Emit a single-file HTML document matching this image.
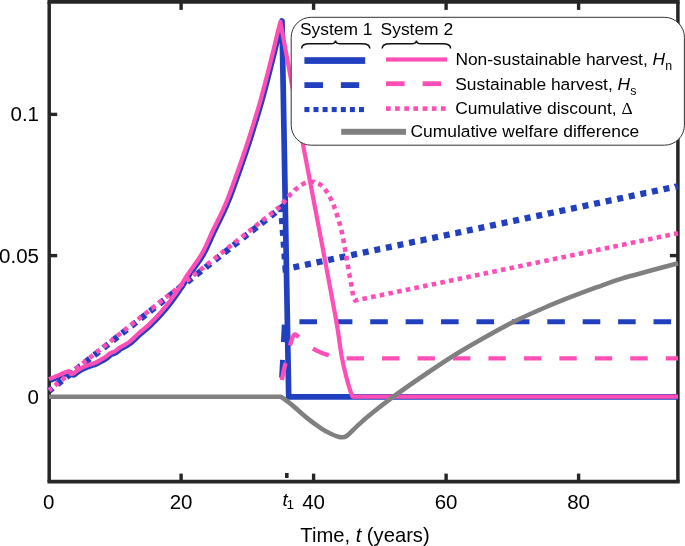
<!DOCTYPE html>
<html><head><meta charset="utf-8"><title>Figure</title>
<style>
html,body{margin:0;padding:0;background:#fff;}
body{width:685px;height:546px;overflow:hidden;}
svg{display:block;}
text{fill:#000;}
</style></head>
<body>
<svg width="685" height="546" viewBox="0 0 685 546">
<rect width="685" height="546" fill="#fff"/>
<path d="M47.45,1.90 H679.70 M47.45,481.60 H679.70" stroke="#262626" stroke-width="3.8" fill="none"/>
<path d="M49.20,1.90 V481.60 M677.90,1.90 V481.60" stroke="#262626" stroke-width="3.5" fill="none"/>
<line x1="181.10" y1="481.60" x2="181.10" y2="473.60" stroke="#262626" stroke-width="3.40"/>
<line x1="181.10" y1="1.90" x2="181.10" y2="9.90" stroke="#262626" stroke-width="3.40"/>
<line x1="313.60" y1="481.60" x2="313.60" y2="473.60" stroke="#262626" stroke-width="3.40"/>
<line x1="313.60" y1="1.90" x2="313.60" y2="9.90" stroke="#262626" stroke-width="3.40"/>
<line x1="446.10" y1="481.60" x2="446.10" y2="473.60" stroke="#262626" stroke-width="3.40"/>
<line x1="446.10" y1="1.90" x2="446.10" y2="9.90" stroke="#262626" stroke-width="3.40"/>
<line x1="578.60" y1="481.60" x2="578.60" y2="473.60" stroke="#262626" stroke-width="3.40"/>
<line x1="578.60" y1="1.90" x2="578.60" y2="9.90" stroke="#262626" stroke-width="3.40"/>
<line x1="286.8" y1="473" x2="286.8" y2="478" stroke="#262626" stroke-width="3.6"/>
<line x1="49.20" y1="396.80" x2="57.20" y2="396.80" stroke="#262626" stroke-width="3.40"/>
<line x1="677.90" y1="396.80" x2="669.90" y2="396.80" stroke="#262626" stroke-width="3.40"/>
<line x1="49.20" y1="255.60" x2="57.20" y2="255.60" stroke="#262626" stroke-width="3.40"/>
<line x1="677.90" y1="255.60" x2="669.90" y2="255.60" stroke="#262626" stroke-width="3.40"/>
<line x1="49.20" y1="114.40" x2="57.20" y2="114.40" stroke="#262626" stroke-width="3.40"/>
<line x1="677.90" y1="114.40" x2="669.90" y2="114.40" stroke="#262626" stroke-width="3.40"/>
<path d="M50.10,380.20 C51.93,379.43 57.85,376.92 61.10,375.60 C64.35,374.28 67.55,372.40 69.60,372.30 C71.65,372.20 72.15,374.98 73.40,375.00 C74.65,375.02 75.82,373.27 77.10,372.40 C78.38,371.53 79.60,370.65 81.10,369.80 C82.60,368.95 84.43,368.00 86.10,367.30 C87.77,366.60 89.43,366.18 91.10,365.60 C92.77,365.02 94.43,364.53 96.10,363.80 C97.77,363.07 99.43,362.12 101.10,361.20 C102.77,360.28 104.43,359.43 106.10,358.30 C107.77,357.17 109.43,355.42 111.10,354.40 C112.77,353.38 114.43,353.20 116.10,352.20 C117.77,351.20 119.43,349.48 121.10,348.40 C122.77,347.32 124.43,346.70 126.10,345.70 C127.77,344.70 129.43,343.70 131.10,342.40 C132.77,341.10 134.43,339.45 136.10,337.90 C137.77,336.35 139.43,334.57 141.10,333.10 C142.77,331.63 144.43,330.53 146.10,329.10 C147.77,327.67 148.60,326.98 151.10,324.50 C153.60,322.02 157.65,318.12 161.10,314.20 C164.55,310.28 168.43,305.45 171.80,301.00 C175.17,296.55 178.53,291.67 181.30,287.50 C184.07,283.33 185.45,280.42 188.40,276.00 C191.35,271.58 196.23,265.17 199.00,261.00 C201.77,256.83 202.47,256.00 205.00,251.00 C207.53,246.00 210.32,239.33 214.20,231.00 C218.08,222.67 222.97,214.33 228.30,201.00 C233.63,187.67 241.88,163.50 246.20,151.00 C250.52,138.50 251.62,134.33 254.20,126.00 C256.78,117.67 259.35,109.33 261.70,101.00 C264.05,92.67 266.15,84.33 268.30,76.00 C270.45,67.67 272.92,57.83 274.60,51.00 C276.28,44.17 277.17,40.00 278.40,35.00 C279.63,30.00 281.40,23.33 282.00,21.00 L288.7,396.8 L678,396.8" fill="none" stroke="#2140c0" stroke-width="5.7" stroke-linejoin="round"/>
<path d="M280.60,396.80 L280.63,396.30 L280.65,395.80 L280.67,395.33 M281.58,377.54 L281.59,377.30 L281.61,376.80 L281.64,376.30 L281.66,375.80 L281.69,375.30 L281.71,374.80 L281.74,374.30 L281.77,373.80 L281.79,373.30 L281.82,372.80 L281.84,372.30 L281.87,371.80 L281.89,371.30 L281.92,370.80 L281.94,370.30 L281.97,369.80 L281.99,369.30 L282.02,368.80 L282.04,368.30 L282.07,367.80 L282.09,367.30 L282.12,366.80 L282.15,366.30 L282.17,365.80 L282.20,365.30 L282.22,364.80 L282.25,364.30 L282.27,363.80 L282.30,363.30 L282.32,362.80 L282.35,362.30 L282.37,361.80 L282.40,361.30 L282.42,360.80 L282.45,360.30 L282.47,359.97 M283.37,342.18 L283.39,341.80 L283.41,341.30 L283.44,340.80 L283.46,340.30 L283.49,339.80 L283.51,339.30 L283.54,338.80 L283.56,338.30 L283.59,337.80 L283.61,337.30 L283.64,336.80 L283.67,336.30 L283.69,335.80 L283.72,335.30 L283.74,334.80 L283.77,334.30 L283.79,333.80 L283.82,333.30 L283.84,332.80 L283.87,332.30 L283.89,331.80 L283.92,331.30 L283.94,330.80 L283.97,330.30 L283.99,329.80 L284.02,329.30 L284.05,328.80 L284.07,328.30 L284.10,327.80 L284.12,327.30 L284.15,326.80 L284.17,326.30 L284.20,325.80 L284.22,325.30 L284.25,324.80 L284.26,324.60 M299.40,321.80 L299.90,321.80 L300.40,321.80 L300.90,321.80 L301.40,321.80 L301.90,321.80 L302.40,321.80 L302.90,321.80 L303.40,321.80 L303.90,321.80 L304.41,321.80 L304.91,321.80 L305.41,321.80 L305.91,321.80 L306.41,321.80 L306.91,321.80 L307.41,321.80 L307.91,321.80 L308.41,321.80 L308.91,321.80 L309.41,321.80 L309.91,321.80 L310.41,321.80 L310.91,321.80 L311.41,321.80 L311.91,321.80 L312.41,321.80 L312.91,321.80 L313.41,321.80 L313.91,321.80 L314.41,321.80 L314.91,321.80 L315.41,321.80 L315.91,321.80 L316.41,321.80 L316.91,321.80 L317.00,321.80 M334.81,321.80 L334.91,321.80 L335.41,321.80 L335.91,321.80 L336.41,321.80 L336.91,321.80 L337.41,321.80 L337.91,321.80 L338.41,321.80 L338.91,321.80 L339.41,321.80 L339.91,321.80 L340.41,321.80 L340.91,321.80 L341.41,321.80 L341.91,321.80 L342.41,321.80 L342.91,321.80 L343.41,321.80 L343.92,321.80 L344.42,321.80 L344.92,321.80 L345.42,321.80 L345.92,321.80 L346.42,321.80 L346.92,321.80 L347.42,321.80 L347.92,321.80 L348.42,321.80 L348.92,321.80 L349.42,321.80 L349.92,321.80 L350.42,321.80 L350.92,321.80 L351.42,321.80 L351.92,321.80 L352.41,321.80 M370.22,321.80 L370.42,321.80 L370.92,321.80 L371.42,321.80 L371.92,321.80 L372.42,321.80 L372.92,321.80 L373.42,321.80 L373.92,321.80 L374.42,321.80 L374.92,321.80 L375.42,321.80 L375.92,321.80 L376.42,321.80 L376.92,321.80 L377.42,321.80 L377.92,321.80 L378.42,321.80 L378.92,321.80 L379.42,321.80 L379.92,321.80 L380.42,321.80 L380.92,321.80 L381.42,321.80 L381.92,321.80 L382.42,321.80 L382.93,321.80 L383.43,321.80 L383.93,321.80 L384.43,321.80 L384.93,321.80 L385.43,321.80 L385.93,321.80 L386.43,321.80 L386.93,321.80 L387.43,321.80 L387.82,321.80 M405.63,321.80 L405.93,321.80 L406.43,321.80 L406.93,321.80 L407.43,321.80 L407.93,321.80 L408.43,321.80 L408.93,321.80 L409.43,321.80 L409.93,321.80 L410.43,321.80 L410.93,321.80 L411.43,321.80 L411.93,321.80 L412.43,321.80 L412.93,321.80 L413.43,321.80 L413.93,321.80 L414.43,321.80 L414.93,321.80 L415.43,321.80 L415.93,321.80 L416.43,321.80 L416.93,321.80 L417.43,321.80 L417.93,321.80 L418.43,321.80 L418.93,321.80 L419.43,321.80 L419.93,321.80 L420.43,321.80 L420.93,321.80 L421.43,321.80 L421.93,321.80 L422.44,321.80 L422.94,321.80 L423.23,321.80 M441.04,321.80 L441.44,321.80 L441.94,321.80 L442.44,321.80 L442.94,321.80 L443.44,321.80 L443.94,321.80 L444.44,321.80 L444.94,321.80 L445.44,321.80 L445.94,321.80 L446.44,321.80 L446.94,321.80 L447.44,321.80 L447.94,321.80 L448.44,321.80 L448.94,321.80 L449.44,321.80 L449.94,321.80 L450.44,321.80 L450.94,321.80 L451.44,321.80 L451.94,321.80 L452.44,321.80 L452.94,321.80 L453.44,321.80 L453.94,321.80 L454.44,321.80 L454.94,321.80 L455.44,321.80 L455.94,321.80 L456.44,321.80 L456.94,321.80 L457.44,321.80 L457.94,321.80 L458.44,321.80 L458.64,321.80 M476.45,321.80 L476.95,321.80 L477.45,321.80 L477.95,321.80 L478.45,321.80 L478.95,321.80 L479.45,321.80 L479.95,321.80 L480.45,321.80 L480.95,321.80 L481.45,321.80 L481.95,321.80 L482.45,321.80 L482.95,321.80 L483.45,321.80 L483.95,321.80 L484.45,321.80 L484.95,321.80 L485.45,321.80 L485.95,321.80 L486.45,321.80 L486.95,321.80 L487.45,321.80 L487.95,321.80 L488.45,321.80 L488.95,321.80 L489.45,321.80 L489.95,321.80 L490.45,321.80 L490.95,321.80 L491.45,321.80 L491.95,321.80 L492.45,321.80 L492.95,321.80 L493.45,321.80 L493.95,321.80 L494.05,321.80 M511.86,321.80 L511.96,321.80 L512.46,321.80 L512.96,321.80 L513.46,321.80 L513.96,321.80 L514.46,321.80 L514.96,321.80 L515.46,321.80 L515.96,321.80 L516.46,321.80 L516.96,321.80 L517.46,321.80 L517.96,321.80 L518.46,321.80 L518.96,321.80 L519.46,321.80 L519.96,321.80 L520.46,321.80 L520.96,321.80 L521.46,321.80 L521.96,321.80 L522.46,321.80 L522.96,321.80 L523.46,321.80 L523.96,321.80 L524.46,321.80 L524.96,321.80 L525.46,321.80 L525.96,321.80 L526.46,321.80 L526.96,321.80 L527.46,321.80 L527.96,321.80 L528.46,321.80 L528.96,321.80 L529.46,321.80 L529.46,321.80 M547.27,321.80 L547.47,321.80 L547.97,321.80 L548.47,321.80 L548.97,321.80 L549.47,321.80 L549.97,321.80 L550.47,321.80 L550.97,321.80 L551.47,321.80 L551.97,321.80 L552.47,321.80 L552.97,321.80 L553.47,321.80 L553.97,321.80 L554.47,321.80 L554.97,321.80 L555.47,321.80 L555.97,321.80 L556.47,321.80 L556.97,321.80 L557.47,321.80 L557.97,321.80 L558.47,321.80 L558.97,321.80 L559.47,321.80 L559.97,321.80 L560.47,321.80 L560.97,321.80 L561.47,321.80 L561.97,321.80 L562.47,321.80 L562.97,321.80 L563.47,321.80 L563.97,321.80 L564.47,321.80 L564.87,321.80 M582.68,321.80 L582.98,321.80 L583.48,321.80 L583.98,321.80 L584.48,321.80 L584.98,321.80 L585.48,321.80 L585.98,321.80 L586.48,321.80 L586.98,321.80 L587.48,321.80 L587.98,321.80 L588.48,321.80 L588.98,321.80 L589.48,321.80 L589.98,321.80 L590.48,321.80 L590.98,321.80 L591.48,321.80 L591.98,321.80 L592.48,321.80 L592.98,321.80 L593.48,321.80 L593.98,321.80 L594.48,321.80 L594.98,321.80 L595.48,321.80 L595.98,321.80 L596.48,321.80 L596.98,321.80 L597.48,321.80 L597.98,321.80 L598.48,321.80 L598.98,321.80 L599.48,321.80 L599.98,321.80 L600.28,321.80 M618.09,321.80 L618.48,321.80 L618.99,321.80 L619.49,321.80 L619.99,321.80 L620.49,321.80 L620.99,321.80 L621.49,321.80 L621.99,321.80 L622.49,321.80 L622.99,321.80 L623.49,321.80 L623.99,321.80 L624.49,321.80 L624.99,321.80 L625.49,321.80 L625.99,321.80 L626.49,321.80 L626.99,321.80 L627.49,321.80 L627.99,321.80 L628.49,321.80 L628.99,321.80 L629.49,321.80 L629.99,321.80 L630.49,321.80 L630.99,321.80 L631.49,321.80 L631.99,321.80 L632.49,321.80 L632.99,321.80 L633.49,321.80 L633.99,321.80 L634.49,321.80 L634.99,321.80 L635.49,321.80 L635.69,321.80 M653.50,321.80 L653.99,321.80 L654.49,321.80 L654.99,321.80 L655.49,321.80 L655.99,321.80 L656.49,321.80 L656.99,321.80 L657.49,321.80 L657.99,321.80 L658.50,321.80 L659.00,321.80 L659.50,321.80 L660.00,321.80 L660.50,321.80 L661.00,321.80 L661.50,321.80 L662.00,321.80 L662.50,321.80 L663.00,321.80 L663.50,321.80 L664.00,321.80 L664.50,321.80 L665.00,321.80 L665.50,321.80 L666.00,321.80 L666.50,321.80 L667.00,321.80 L667.50,321.80 L668.00,321.80 L668.50,321.80 L669.00,321.80 L669.50,321.80 L670.00,321.80 L670.50,321.80 L671.00,321.80 L671.10,321.80" fill="none" stroke="#2140c0" stroke-width="4.9"/>
<path d="M49.00,390.90 L49.39,390.59 L49.79,390.28 L50.18,389.97 L50.57,389.66 L50.96,389.35 L51.36,389.04 L51.75,388.73 L52.14,388.42 L52.54,388.11 L52.61,388.05 M57.18,384.45 L57.25,384.39 L57.64,384.08 L58.04,383.77 L58.43,383.46 L58.82,383.15 L59.22,382.84 L59.61,382.54 L60.00,382.23 L60.39,381.92 L60.79,381.61 L61.18,381.30 L61.57,380.99 L61.89,380.74 M66.46,377.13 L66.68,376.96 L67.07,376.65 L67.47,376.34 L67.86,376.03 L68.25,375.72 L68.64,375.41 L69.04,375.10 L69.43,374.79 L69.82,374.48 L70.22,374.17 L70.61,373.86 L71.00,373.55 L71.17,373.42 M75.74,369.81 L76.11,369.52 L76.50,369.21 L76.90,368.90 L77.29,368.59 L77.68,368.28 L78.07,367.97 L78.47,367.66 L78.86,367.35 L79.25,367.04 L79.65,366.73 L80.04,366.42 L80.43,366.11 L80.45,366.10 M85.02,362.49 L85.15,362.40 L85.54,362.09 L85.93,361.78 L86.32,361.47 L86.72,361.16 L87.11,360.85 L87.50,360.54 L87.90,360.23 L88.29,359.92 L88.68,359.61 L89.08,359.30 L89.47,358.99 L89.73,358.78 M94.30,355.18 L94.58,354.96 L94.97,354.65 L95.36,354.34 L95.75,354.03 L96.15,353.72 L96.54,353.41 L96.93,353.10 L97.33,352.79 L97.72,352.48 L98.11,352.17 L98.50,351.86 L98.90,351.55 L99.02,351.46 M103.59,347.86 L103.61,347.84 L104.01,347.53 L104.40,347.22 L104.79,346.91 L105.18,346.60 L105.58,346.29 L105.97,345.98 L106.36,345.67 L106.76,345.36 L107.15,345.05 L107.54,344.74 L107.93,344.43 L108.30,344.14 M112.87,340.54 L113.04,340.40 L113.43,340.09 L113.83,339.78 L114.22,339.47 L114.61,339.16 L115.01,338.85 L115.40,338.54 L115.79,338.23 L116.18,337.92 L116.58,337.61 L116.97,337.30 L117.36,336.99 L117.58,336.82 M122.15,333.22 L122.47,332.96 L122.86,332.65 L123.26,332.35 L123.65,332.04 L124.04,331.73 L124.44,331.42 L124.83,331.11 L125.22,330.80 L125.61,330.49 L126.01,330.18 L126.40,329.87 L126.79,329.56 L126.86,329.50 M131.43,325.90 L131.51,325.84 L131.90,325.53 L132.29,325.22 L132.69,324.91 L133.08,324.60 L133.47,324.29 L133.86,323.98 L134.26,323.67 L134.65,323.36 L135.04,323.05 L135.44,322.74 L135.83,322.43 L136.14,322.18 M140.71,318.58 L140.94,318.40 L141.33,318.09 L141.72,317.78 L142.12,317.47 L142.51,317.16 L142.90,316.85 L143.29,316.54 L143.69,316.23 L144.08,315.93 L144.47,315.62 L144.87,315.31 L145.26,315.00 L145.42,314.87 M149.99,311.26 L150.37,310.97 L150.76,310.66 L151.15,310.35 L151.55,310.04 L151.94,309.73 L152.33,309.42 L152.72,309.11 L153.12,308.80 L153.51,308.49 L153.90,308.18 L154.30,307.87 L154.69,307.56 L154.71,307.55 M159.28,303.94 L159.40,303.84 L159.80,303.53 L160.19,303.22 L160.58,302.91 L160.97,302.60 L161.37,302.29 L161.76,301.98 L162.15,301.67 L162.55,301.36 L162.94,301.05 L163.33,300.74 L163.72,300.43 L163.99,300.23 M168.56,296.62 L168.83,296.41 L169.23,296.10 L169.62,295.79 L170.01,295.48 L170.40,295.17 L170.80,294.86 L171.19,294.55 L171.58,294.24 L171.98,293.93 L172.37,293.62 L172.76,293.31 L173.15,293.00 L173.27,292.91 M177.84,289.31 L177.87,289.28 L178.26,288.97 L178.65,288.66 L179.05,288.35 L179.44,288.04 L179.83,287.73 L180.23,287.42 L180.62,287.11 L181.01,286.80 L181.41,286.49 L181.80,286.18 L182.19,285.87 L182.55,285.59 M187.12,281.99 L187.30,281.85 L187.69,281.54 L188.08,281.23 L188.48,280.92 L188.87,280.61 L189.26,280.30 L189.66,279.99 L190.05,279.68 L190.44,279.37 L190.83,279.06 L191.23,278.75 L191.62,278.44 L191.83,278.27 M196.40,274.67 L196.73,274.41 L197.12,274.10 L197.51,273.79 L197.91,273.48 L198.30,273.17 L198.69,272.86 L199.09,272.55 L199.48,272.24 L199.87,271.93 L200.26,271.62 L200.66,271.31 L201.05,271.00 L201.11,270.95 M205.68,267.35 L205.76,267.28 L206.16,266.97 L206.55,266.66 L206.94,266.35 L207.34,266.05 L207.73,265.74 L208.12,265.43 L208.51,265.12 L208.91,264.81 L209.30,264.50 L209.69,264.19 L210.09,263.88 L210.39,263.63 M214.96,260.03 L215.19,259.85 L215.59,259.54 L215.98,259.23 L216.37,258.92 L216.77,258.61 L217.16,258.30 L217.55,257.99 L217.94,257.68 L218.34,257.37 L218.73,257.06 L219.12,256.75 L219.52,256.44 L219.68,256.31 M224.25,252.71 L224.62,252.41 L225.02,252.10 L225.41,251.79 L225.80,251.48 L226.19,251.17 L226.59,250.86 L226.98,250.55 L227.37,250.24 L227.77,249.93 L228.16,249.62 L228.55,249.32 L228.95,249.01 L228.96,249.00 M233.53,245.39 L233.66,245.29 L234.05,244.98 L234.45,244.67 L234.84,244.36 L235.23,244.05 L235.62,243.74 L236.02,243.43 L236.41,243.12 L236.80,242.81 L237.20,242.50 L237.59,242.19 L237.98,241.88 L238.24,241.68 M242.81,238.07 L243.09,237.85 L243.48,237.54 L243.88,237.23 L244.27,236.92 L244.66,236.61 L245.05,236.30 L245.45,235.99 L245.84,235.68 L246.23,235.37 L246.63,235.06 L247.02,234.75 L247.41,234.44 L247.52,234.36 M252.09,230.75 L252.13,230.73 L252.52,230.42 L252.91,230.11 L253.30,229.80 L253.70,229.49 L254.09,229.18 L254.48,228.87 L254.88,228.56 L255.27,228.25 L255.66,227.94 L256.05,227.63 L256.45,227.32 L256.80,227.04 M261.37,223.44 L261.56,223.29 L261.95,222.98 L262.34,222.67 L262.73,222.36 L263.13,222.05 L263.52,221.74 L263.91,221.43 L264.31,221.12 L264.70,220.81 L265.09,220.50 L265.48,220.19 L265.88,219.88 L266.08,219.72 M270.65,216.12 L270.98,215.86 L271.38,215.55 L271.77,215.24 L272.16,214.93 L272.56,214.62 L272.95,214.31 L273.34,214.00 L273.74,213.69 L274.13,213.38 L274.52,213.07 L274.91,212.76 L275.31,212.45 L275.36,212.40 M279.93,208.80 L280.02,208.73 L280.41,208.42 L280.81,208.11 L281.20,207.80 L281.24,208.30 L281.27,208.80 L281.31,209.30 L281.34,209.81 L281.38,210.31 L281.42,210.81 L281.45,211.31 L281.49,211.81 L281.51,212.18 M281.93,217.98 L281.96,218.33 L281.99,218.84 L282.03,219.34 L282.07,219.84 L282.10,220.34 L282.14,220.84 L282.17,221.34 L282.21,221.85 L282.25,222.35 L282.28,222.85 L282.32,223.35 L282.35,223.85 L282.36,223.97 M282.78,229.77 L282.79,229.87 L282.82,230.37 L282.86,230.88 L282.90,231.38 L282.93,231.88 L282.97,232.38 L283.00,232.88 L283.04,233.38 L283.08,233.89 L283.11,234.39 L283.15,234.89 L283.18,235.39 L283.21,235.76 M283.63,241.56 L283.65,241.91 L283.69,242.41 L283.72,242.91 L283.76,243.42 L283.80,243.92 L283.83,244.42 L283.87,244.92 L283.90,245.42 L283.94,245.92 L283.98,246.43 L284.01,246.93 L284.05,247.43 L284.06,247.55 M284.47,253.35 L284.48,253.45 L284.52,253.95 L284.55,254.45 L284.59,254.95 L284.63,255.46 L284.66,255.96 L284.70,256.46 L284.73,256.96 L284.77,257.46 L284.81,257.96 L284.84,258.47 L284.88,258.97 L284.91,259.34 M285.32,265.14 L285.35,265.49 L285.38,265.99 L285.42,266.49 L285.46,266.99 L285.49,267.50 L285.53,268.00 L285.56,268.50 L285.60,269.00 L286.09,268.90 L286.58,268.79 L287.07,268.69 L287.56,268.59 L287.68,268.56 M293.38,267.36 L293.43,267.35 L293.92,267.24 L294.41,267.14 L294.90,267.04 L295.39,266.94 L295.87,266.83 L296.36,266.73 L296.85,266.63 L297.34,266.52 L297.83,266.42 L298.32,266.32 L298.81,266.21 L299.25,266.12 M304.94,264.92 L305.17,264.87 L305.66,264.77 L306.15,264.66 L306.64,264.56 L307.13,264.46 L307.62,264.35 L308.11,264.25 L308.60,264.15 L309.09,264.04 L309.57,263.94 L310.06,263.84 L310.55,263.73 L310.82,263.68 M316.51,262.48 L316.91,262.39 L317.40,262.29 L317.89,262.19 L318.38,262.08 L318.87,261.98 L319.36,261.88 L319.85,261.77 L320.34,261.67 L320.83,261.57 L321.32,261.46 L321.81,261.36 L322.30,261.26 L322.38,261.24 M328.08,260.04 L328.17,260.02 L328.66,259.91 L329.15,259.81 L329.63,259.71 L330.12,259.60 L330.61,259.50 L331.10,259.40 L331.59,259.30 L332.08,259.19 L332.57,259.09 L333.06,258.99 L333.55,258.88 L333.95,258.80 M339.64,257.60 L339.91,257.54 L340.40,257.44 L340.89,257.33 L341.38,257.23 L341.87,257.13 L342.36,257.02 L342.85,256.92 L343.33,256.82 L343.82,256.71 L344.31,256.61 L344.80,256.51 L345.29,256.40 L345.51,256.36 M351.21,255.16 L351.65,255.06 L352.14,254.96 L352.63,254.86 L353.12,254.75 L353.61,254.65 L354.10,254.55 L354.59,254.44 L355.08,254.34 L355.57,254.24 L356.06,254.13 L356.55,254.03 L357.03,253.93 L357.08,253.92 M362.77,252.72 L362.91,252.69 L363.40,252.58 L363.88,252.48 L364.37,252.38 L364.86,252.27 L365.35,252.17 L365.84,252.07 L366.33,251.97 L366.82,251.86 L367.31,251.76 L367.80,251.66 L368.29,251.55 L368.64,251.48 M374.34,250.28 L374.65,250.21 L375.14,250.11 L375.63,250.00 L376.12,249.90 L376.61,249.80 L377.09,249.69 L377.58,249.59 L378.07,249.49 L378.56,249.38 L379.05,249.28 L379.54,249.18 L380.03,249.07 L380.21,249.04 M385.90,247.84 L386.39,247.73 L386.88,247.63 L387.37,247.53 L387.86,247.42 L388.35,247.32 L388.84,247.22 L389.33,247.11 L389.82,247.01 L390.31,246.91 L390.79,246.80 L391.28,246.70 L391.77,246.60 M397.47,245.39 L397.64,245.36 L398.13,245.25 L398.62,245.15 L399.11,245.05 L399.60,244.94 L400.09,244.84 L400.58,244.74 L401.07,244.63 L401.56,244.53 L402.05,244.43 L402.54,244.33 L403.03,244.22 L403.34,244.16 M409.03,242.95 L409.39,242.88 L409.88,242.78 L410.37,242.67 L410.85,242.57 L411.34,242.47 L411.83,242.36 L412.32,242.26 L412.81,242.16 L413.30,242.05 L413.79,241.95 L414.28,241.85 L414.77,241.74 L414.90,241.72 M420.60,240.51 L420.64,240.51 L421.13,240.40 L421.62,240.30 L422.11,240.20 L422.60,240.09 L423.09,239.99 L423.58,239.89 L424.07,239.78 L424.55,239.68 L425.04,239.58 L425.53,239.47 L426.02,239.37 L426.47,239.28 M432.16,238.07 L432.38,238.03 L432.87,237.92 L433.36,237.82 L433.85,237.72 L434.34,237.61 L434.83,237.51 L435.32,237.41 L435.81,237.30 L436.30,237.20 L436.79,237.10 L437.28,237.00 L437.77,236.89 L438.03,236.84 M443.73,235.63 L444.13,235.55 L444.61,235.45 L445.10,235.34 L445.59,235.24 L446.08,235.14 L446.57,235.03 L447.06,234.93 L447.55,234.83 L448.04,234.72 L448.53,234.62 L449.02,234.52 L449.51,234.41 L449.60,234.39 M455.29,233.19 L455.38,233.18 L455.87,233.07 L456.36,232.97 L456.85,232.87 L457.34,232.76 L457.83,232.66 L458.31,232.56 L458.80,232.45 L459.29,232.35 L459.78,232.25 L460.27,232.14 L460.76,232.04 L461.16,231.95 M466.86,230.75 L467.12,230.70 L467.61,230.59 L468.10,230.49 L468.59,230.39 L469.08,230.28 L469.57,230.18 L470.06,230.08 L470.55,229.97 L471.04,229.87 L471.53,229.77 L472.01,229.66 L472.50,229.56 L472.73,229.51 M478.42,228.31 L478.86,228.22 L479.35,228.12 L479.84,228.01 L480.33,227.91 L480.82,227.81 L481.31,227.70 L481.80,227.60 L482.29,227.50 L482.78,227.39 L483.27,227.29 L483.76,227.19 L484.25,227.08 L484.30,227.07 M489.99,225.87 L490.12,225.84 L490.61,225.74 L491.10,225.64 L491.59,225.54 L492.07,225.43 L492.56,225.33 L493.05,225.23 L493.54,225.12 L494.03,225.02 L494.52,224.92 L495.01,224.81 L495.50,224.71 L495.86,224.63 M501.56,223.43 L501.86,223.37 L502.35,223.26 L502.84,223.16 L503.33,223.06 L503.82,222.95 L504.31,222.85 L504.80,222.75 L505.29,222.64 L505.77,222.54 L506.26,222.44 L506.75,222.33 L507.24,222.23 L507.43,222.19 M513.12,220.99 L513.60,220.89 L514.09,220.79 L514.58,220.68 L515.07,220.58 L515.56,220.48 L516.05,220.37 L516.54,220.27 L517.03,220.17 L517.52,220.06 L518.01,219.96 L518.50,219.86 L518.99,219.75 L518.99,219.75 M524.69,218.55 L524.86,218.51 L525.35,218.41 L525.83,218.31 L526.32,218.20 L526.81,218.10 L527.30,218.00 L527.79,217.90 L528.28,217.79 L528.77,217.69 L529.26,217.59 L529.75,217.48 L530.24,217.38 L530.56,217.31 M536.25,216.11 L536.60,216.04 L537.09,215.93 L537.58,215.83 L538.07,215.73 L538.56,215.62 L539.05,215.52 L539.53,215.42 L540.02,215.31 L540.51,215.21 L541.00,215.11 L541.49,215.00 L541.98,214.90 L542.12,214.87 M547.82,213.67 L547.85,213.66 L548.34,213.56 L548.83,213.46 L549.32,213.35 L549.81,213.25 L550.30,213.15 L550.79,213.04 L551.28,212.94 L551.77,212.84 L552.26,212.73 L552.75,212.63 L553.23,212.53 L553.69,212.43 M559.38,211.23 L559.60,211.18 L560.08,211.08 L560.57,210.98 L561.06,210.87 L561.55,210.77 L562.04,210.67 L562.53,210.57 L563.02,210.46 L563.51,210.36 L564.00,210.26 L564.49,210.15 L564.98,210.05 L565.25,209.99 M570.95,208.79 L571.34,208.71 L571.83,208.60 L572.32,208.50 L572.81,208.40 L573.29,208.29 L573.78,208.19 L574.27,208.09 L574.76,207.98 L575.25,207.88 L575.74,207.78 L576.23,207.67 L576.72,207.57 L576.82,207.55 M582.51,206.35 L582.59,206.33 L583.08,206.23 L583.57,206.13 L584.06,206.02 L584.55,205.92 L585.04,205.82 L585.53,205.71 L586.02,205.61 L586.51,205.51 L586.99,205.40 L587.48,205.30 L587.97,205.20 L588.38,205.11 M594.08,203.91 L594.33,203.85 L594.82,203.75 L595.31,203.65 L595.80,203.54 L596.29,203.44 L596.78,203.34 L597.27,203.23 L597.76,203.13 L598.25,203.03 L598.74,202.93 L599.23,202.82 L599.72,202.72 L599.95,202.67 M605.64,201.47 L606.08,201.38 L606.57,201.27 L607.05,201.17 L607.54,201.07 L608.03,200.96 L608.52,200.86 L609.01,200.76 L609.50,200.65 L609.99,200.55 L610.48,200.45 L610.97,200.34 L611.46,200.24 L611.51,200.23 M617.21,199.03 L617.33,199.00 L617.82,198.90 L618.31,198.80 L618.80,198.69 L619.29,198.59 L619.78,198.49 L620.27,198.38 L620.75,198.28 L621.24,198.18 L621.73,198.07 L622.22,197.97 L622.71,197.87 L623.08,197.79 M628.77,196.59 L629.07,196.52 L629.56,196.42 L630.05,196.32 L630.54,196.21 L631.03,196.11 L631.52,196.01 L632.01,195.90 L632.50,195.80 L632.99,195.70 L633.48,195.60 L633.97,195.49 L634.45,195.39 L634.64,195.35 M640.34,194.15 L640.81,194.05 L641.30,193.94 L641.79,193.84 L642.28,193.74 L642.77,193.63 L643.26,193.53 L643.75,193.43 L644.24,193.32 L644.73,193.22 L645.22,193.12 L645.71,193.01 L646.20,192.91 L646.21,192.91 M651.90,191.71 L652.07,191.67 L652.56,191.57 L653.05,191.47 L653.54,191.36 L654.03,191.26 L654.51,191.16 L655.00,191.05 L655.49,190.95 L655.98,190.85 L656.47,190.74 L656.96,190.64 L657.45,190.54 L657.78,190.47 M663.47,189.27 L663.81,189.19 L664.30,189.09 L664.79,188.99 L665.28,188.88 L665.77,188.78 L666.26,188.68 L666.75,188.57 L667.24,188.47 L667.73,188.37 L668.21,188.26 L668.70,188.16 L669.19,188.06 L669.34,188.03 M675.04,186.83 L675.06,186.82 L675.55,186.72 L676.04,186.61 L676.53,186.51 L677.02,186.41 L677.51,186.30 L678.00,186.20" fill="none" stroke="#2140c0" stroke-width="6.3"/>
<path d="M49.00,379.20 C50.83,378.43 56.75,375.92 60.00,374.60 C63.25,373.28 66.45,371.40 68.50,371.30 C70.55,371.20 71.05,373.98 72.30,374.00 C73.55,374.02 74.72,372.27 76.00,371.40 C77.28,370.53 78.50,369.65 80.00,368.80 C81.50,367.95 83.33,367.00 85.00,366.30 C86.67,365.60 88.33,365.18 90.00,364.60 C91.67,364.02 93.33,363.53 95.00,362.80 C96.67,362.07 98.33,361.12 100.00,360.20 C101.67,359.28 103.33,358.43 105.00,357.30 C106.67,356.17 108.33,354.42 110.00,353.40 C111.67,352.38 113.33,352.20 115.00,351.20 C116.67,350.20 118.33,348.48 120.00,347.40 C121.67,346.32 123.33,345.70 125.00,344.70 C126.67,343.70 128.33,342.70 130.00,341.40 C131.67,340.10 133.33,338.45 135.00,336.90 C136.67,335.35 138.33,333.57 140.00,332.10 C141.67,330.63 143.33,329.53 145.00,328.10 C146.67,326.67 147.50,325.98 150.00,323.50 C152.50,321.02 156.55,317.12 160.00,313.20 C163.45,309.28 167.33,304.45 170.70,300.00 C174.07,295.55 177.43,290.67 180.20,286.50 C182.97,282.33 184.35,279.42 187.30,275.00 C190.25,270.58 195.13,264.17 197.90,260.00 C200.67,255.83 201.37,255.00 203.90,250.00 C206.43,245.00 209.22,238.33 213.10,230.00 C216.98,221.67 221.87,213.33 227.20,200.00 C232.53,186.67 240.78,162.50 245.10,150.00 C249.42,137.50 250.52,133.33 253.10,125.00 C255.68,116.67 258.25,108.33 260.60,100.00 C262.95,91.67 265.05,83.33 267.20,75.00 C269.35,66.67 271.82,56.83 273.50,50.00 C275.18,43.17 276.15,38.70 277.30,34.00 C278.45,29.30 279.88,23.83 280.40,21.80 L280.40,21.80 C284.20,42.42 296.40,109.13 303.20,145.50 C310.00,181.87 315.70,210.83 321.20,240.00 C326.70,269.17 332.82,301.25 336.20,320.50 C339.58,339.75 339.82,346.08 341.50,355.50 C343.18,364.92 344.85,371.17 346.30,377.00 C347.75,382.83 349.15,387.23 350.20,390.50 C351.25,393.77 352.20,395.58 352.60,396.60 L678,396.6" fill="none" stroke="#ff4fb6" stroke-width="4.2" stroke-linejoin="round"/>
<path d="M281.93,380.11 L281.97,379.87 L282.15,378.92 L282.32,377.98 L282.50,377.05 L282.67,376.14 L282.84,375.26 L283.01,374.40 L283.18,373.57 L283.34,372.77 L283.50,372.00 L283.66,371.25 L283.82,370.51 L283.99,369.77 L284.16,369.03 L284.33,368.29 L284.50,367.56 L284.67,366.83 L284.85,366.10 L285.03,365.38 L285.20,364.66 L285.38,363.95 L285.56,363.25 L285.60,363.10 M290.06,345.60 L290.11,345.38 L290.20,345.01 L290.29,344.65 L290.38,344.30 L290.47,343.95 L290.56,343.61 L290.65,343.28 L290.74,342.95 L290.83,342.63 L290.92,342.31 L291.01,342.00 L291.11,341.69 L291.20,341.39 L291.30,341.09 L291.40,340.79 L291.50,340.50 L291.60,340.21 L291.70,339.92 L291.81,339.64 L291.91,339.35 L292.01,339.08 L292.10,338.80 L292.20,338.53 L292.30,338.27 L292.40,338.01 L292.50,337.76 L292.60,337.51 L292.70,337.27 L292.80,337.03 L292.90,336.81 L293.00,336.59 L293.10,336.38 L293.21,336.17 L293.31,335.98 L293.42,335.80 L293.52,335.62 L293.63,335.46 L293.74,335.30 L293.85,335.16 L293.97,335.03 L294.08,334.91 L294.20,334.80 L294.32,334.71 L294.45,334.62 L294.57,334.56 L294.70,334.50 L294.83,334.46 L294.96,334.44 L295.09,334.43 L295.23,334.44 L295.36,334.46 L295.50,334.49 L295.63,334.54 L295.77,334.60 L295.91,334.67 L296.05,334.75 L296.19,334.84 L296.34,334.95 L296.48,335.06 L296.63,335.17 L296.78,335.30 L296.93,335.43 L297.09,335.57 L297.24,335.71 L297.40,335.86 L297.56,336.01 L297.72,336.17 L297.89,336.33 L298.05,336.49 L298.22,336.65 L298.40,336.81 L298.57,336.97 L298.75,337.13 L298.84,337.21 M312.88,348.53 L313.00,348.60 L313.25,348.75 L313.50,348.90 L313.76,349.05 L314.02,349.19 L314.28,349.34 L314.54,349.48 L314.80,349.63 L315.06,349.77 L315.33,349.91 L315.59,350.06 L315.86,350.20 L316.13,350.33 L316.40,350.47 L316.67,350.61 L316.94,350.74 L317.21,350.88 L317.48,351.01 L317.75,351.14 L318.02,351.27 L318.30,351.40 L318.57,351.53 L318.84,351.65 L319.11,351.78 L319.38,351.90 L319.66,352.02 L319.93,352.14 L320.20,352.26 L320.46,352.37 L320.73,352.49 L321.00,352.60 L321.27,352.71 L321.53,352.82 L321.80,352.93 L322.07,353.03 L322.33,353.13 L322.60,353.23 L322.87,353.33 L323.13,353.43 L323.40,353.53 L323.67,353.62 L323.93,353.72 L324.20,353.81 L324.47,353.90 L324.73,353.99 L325.00,354.08 L325.27,354.16 L325.53,354.25 L325.80,354.33 L326.07,354.42 L326.33,354.50 L326.60,354.58 L326.87,354.66 L327.13,354.75 L327.40,354.83 L327.67,354.91 L327.93,354.99 L328.20,355.06 L328.47,355.14 L328.73,355.22 L328.86,355.26 M346.60,358.40 L347.10,358.40 L347.60,358.40 L348.10,358.40 L348.60,358.40 L349.10,358.40 L349.60,358.40 L350.10,358.40 L350.60,358.40 L351.11,358.40 L351.61,358.40 L352.11,358.40 L352.61,358.40 L353.11,358.40 L353.61,358.40 L354.11,358.40 L354.61,358.40 L355.11,358.40 L355.61,358.40 L356.11,358.40 L356.61,358.40 L357.11,358.40 L357.61,358.40 L358.11,358.40 L358.61,358.40 L359.12,358.40 L359.62,358.40 L360.12,358.40 L360.62,358.40 L361.12,358.40 L361.62,358.40 L362.12,358.40 L362.62,358.40 L363.12,358.40 L363.62,358.40 L364.00,358.40 M382.06,358.40 L382.14,358.40 L382.64,358.40 L383.14,358.40 L383.64,358.40 L384.15,358.40 L384.65,358.40 L385.15,358.40 L385.65,358.40 L386.15,358.40 L386.65,358.40 L387.15,358.40 L387.65,358.40 L388.15,358.40 L388.65,358.40 L389.15,358.40 L389.65,358.40 L390.15,358.40 L390.65,358.40 L391.15,358.40 L391.65,358.40 L392.15,358.40 L392.66,358.40 L393.16,358.40 L393.66,358.40 L394.16,358.40 L394.66,358.40 L395.16,358.40 L395.66,358.40 L396.16,358.40 L396.66,358.40 L397.16,358.40 L397.66,358.40 L398.16,358.40 L398.66,358.40 L399.16,358.40 L399.46,358.40 M417.52,358.40 L417.69,358.40 L418.19,358.40 L418.69,358.40 L419.19,358.40 L419.69,358.40 L420.19,358.40 L420.69,358.40 L421.19,358.40 L421.69,358.40 L422.19,358.40 L422.69,358.40 L423.19,358.40 L423.69,358.40 L424.19,358.40 L424.69,358.40 L425.19,358.40 L425.70,358.40 L426.20,358.40 L426.70,358.40 L427.20,358.40 L427.70,358.40 L428.20,358.40 L428.70,358.40 L429.20,358.40 L429.70,358.40 L430.20,358.40 L430.70,358.40 L431.20,358.40 L431.70,358.40 L432.20,358.40 L432.70,358.40 L433.20,358.40 L433.71,358.40 L434.21,358.40 L434.71,358.40 L434.92,358.40 M452.98,358.40 L453.23,358.40 L453.73,358.40 L454.23,358.40 L454.73,358.40 L455.23,358.40 L455.73,358.40 L456.23,358.40 L456.73,358.40 L457.23,358.40 L457.73,358.40 L458.23,358.40 L458.74,358.40 L459.24,358.40 L459.74,358.40 L460.24,358.40 L460.74,358.40 L461.24,358.40 L461.74,358.40 L462.24,358.40 L462.74,358.40 L463.24,358.40 L463.74,358.40 L464.24,358.40 L464.74,358.40 L465.24,358.40 L465.74,358.40 L466.24,358.40 L466.75,358.40 L467.25,358.40 L467.75,358.40 L468.25,358.40 L468.75,358.40 L469.25,358.40 L469.75,358.40 L470.25,358.40 L470.38,358.40 M488.44,358.40 L488.77,358.40 L489.27,358.40 L489.77,358.40 L490.27,358.40 L490.77,358.40 L491.27,358.40 L491.78,358.40 L492.28,358.40 L492.78,358.40 L493.28,358.40 L493.78,358.40 L494.28,358.40 L494.78,358.40 L495.28,358.40 L495.78,358.40 L496.28,358.40 L496.78,358.40 L497.28,358.40 L497.78,358.40 L498.28,358.40 L498.78,358.40 L499.28,358.40 L499.78,358.40 L500.29,358.40 L500.79,358.40 L501.29,358.40 L501.79,358.40 L502.29,358.40 L502.79,358.40 L503.29,358.40 L503.79,358.40 L504.29,358.40 L504.79,358.40 L505.29,358.40 L505.79,358.40 L505.84,358.40 M523.90,358.40 L524.31,358.40 L524.82,358.40 L525.32,358.40 L525.82,358.40 L526.32,358.40 L526.82,358.40 L527.32,358.40 L527.82,358.40 L528.32,358.40 L528.82,358.40 L529.32,358.40 L529.82,358.40 L530.32,358.40 L530.82,358.40 L531.32,358.40 L531.82,358.40 L532.32,358.40 L532.82,358.40 L533.33,358.40 L533.83,358.40 L534.33,358.40 L534.83,358.40 L535.33,358.40 L535.83,358.40 L536.33,358.40 L536.83,358.40 L537.33,358.40 L537.83,358.40 L538.33,358.40 L538.83,358.40 L539.33,358.40 L539.83,358.40 L540.33,358.40 L540.83,358.40 L541.30,358.40 M559.36,358.40 L559.86,358.40 L560.36,358.40 L560.86,358.40 L561.36,358.40 L561.86,358.40 L562.36,358.40 L562.86,358.40 L563.36,358.40 L563.86,358.40 L564.36,358.40 L564.86,358.40 L565.36,358.40 L565.86,358.40 L566.37,358.40 L566.87,358.40 L567.37,358.40 L567.87,358.40 L568.37,358.40 L568.87,358.40 L569.37,358.40 L569.87,358.40 L570.37,358.40 L570.87,358.40 L571.37,358.40 L571.87,358.40 L572.37,358.40 L572.87,358.40 L573.37,358.40 L573.87,358.40 L574.37,358.40 L574.88,358.40 L575.38,358.40 L575.88,358.40 L576.38,358.40 L576.76,358.40 M594.82,358.40 L594.90,358.40 L595.40,358.40 L595.90,358.40 L596.40,358.40 L596.90,358.40 L597.40,358.40 L597.90,358.40 L598.40,358.40 L598.90,358.40 L599.41,358.40 L599.91,358.40 L600.41,358.40 L600.91,358.40 L601.41,358.40 L601.91,358.40 L602.41,358.40 L602.91,358.40 L603.41,358.40 L603.91,358.40 L604.41,358.40 L604.91,358.40 L605.41,358.40 L605.91,358.40 L606.41,358.40 L606.91,358.40 L607.41,358.40 L607.92,358.40 L608.42,358.40 L608.92,358.40 L609.42,358.40 L609.92,358.40 L610.42,358.40 L610.92,358.40 L611.42,358.40 L611.92,358.40 L612.22,358.40 M630.28,358.40 L630.44,358.40 L630.94,358.40 L631.44,358.40 L631.94,358.40 L632.45,358.40 L632.95,358.40 L633.45,358.40 L633.95,358.40 L634.45,358.40 L634.95,358.40 L635.45,358.40 L635.95,358.40 L636.45,358.40 L636.95,358.40 L637.45,358.40 L637.95,358.40 L638.45,358.40 L638.95,358.40 L639.45,358.40 L639.95,358.40 L640.45,358.40 L640.96,358.40 L641.46,358.40 L641.96,358.40 L642.46,358.40 L642.96,358.40 L643.46,358.40 L643.96,358.40 L644.46,358.40 L644.96,358.40 L645.46,358.40 L645.96,358.40 L646.46,358.40 L646.96,358.40 L647.46,358.40 L647.68,358.40 M665.74,358.40 L665.99,358.40 L666.49,358.40 L666.99,358.40 L667.49,358.40 L667.99,358.40 L668.49,358.40 L668.99,358.40 L669.49,358.40 L669.99,358.40 L670.49,358.40 L670.99,358.40 L671.49,358.40 L671.99,358.40 L672.49,358.40 L672.99,358.40 L673.49,358.40 L674.00,358.40 L674.50,358.40 L675.00,358.40 L675.50,358.40 L676.00,358.40 L676.50,358.40 L677.00,358.40 L677.50,358.40 L678.00,358.40" fill="none" stroke="#ff4fb6" stroke-width="4.3"/>
<path d="M49.00,390.20 L49.78,389.58 L50.57,388.95 L51.35,388.33 L51.54,388.18 M54.86,385.54 L55.27,385.21 L56.06,384.59 L56.84,383.97 L57.63,383.34 L58.41,382.72 L58.46,382.68 M61.78,380.04 L62.33,379.60 L63.12,378.98 L63.90,378.35 L64.69,377.73 L65.38,377.18 M68.70,374.54 L69.39,373.99 L70.18,373.37 L70.96,372.74 L71.75,372.12 L72.30,371.68 M75.62,369.04 L75.67,369.00 L76.45,368.38 L77.24,367.76 L78.02,367.13 L78.81,366.51 L79.22,366.18 M82.54,363.54 L82.73,363.39 L83.51,362.77 L84.30,362.14 L85.08,361.52 L85.86,360.90 L86.14,360.68 M89.46,358.04 L89.79,357.78 L90.57,357.16 L91.36,356.53 L92.14,355.91 L92.92,355.29 L93.06,355.18 M96.38,352.54 L96.85,352.17 L97.63,351.54 L98.41,350.92 L99.20,350.30 L99.98,349.68 M103.30,347.04 L103.90,346.56 L104.69,345.93 L105.47,345.31 L106.26,344.69 L106.90,344.18 M110.22,341.54 L110.96,340.95 L111.75,340.32 L112.53,339.70 L113.32,339.08 L113.82,338.68 M117.14,336.04 L117.24,335.96 L118.02,335.33 L118.81,334.71 L119.59,334.09 L120.38,333.46 L120.74,333.18 M124.06,330.54 L124.30,330.35 L125.08,329.72 L125.87,329.10 L126.65,328.48 L127.44,327.85 L127.66,327.67 M130.98,325.04 L131.36,324.74 L132.14,324.11 L132.93,323.49 L133.71,322.87 L134.49,322.24 L134.58,322.17 M137.90,319.54 L138.42,319.12 L139.20,318.50 L139.99,317.88 L140.77,317.25 L141.50,316.67 M144.82,314.03 L145.48,313.51 L146.26,312.89 L147.04,312.27 L147.83,311.64 L148.42,311.17 M151.74,308.53 L151.75,308.53 L152.53,307.90 L153.32,307.28 L154.10,306.66 L154.89,306.03 L155.34,305.67 M158.66,303.03 L158.81,302.91 L159.59,302.29 L160.38,301.67 L161.16,301.04 L161.95,300.42 L162.26,300.17 M165.58,297.53 L165.87,297.30 L166.65,296.68 L167.44,296.06 L168.22,295.43 L169.01,294.81 L169.18,294.67 M172.50,292.03 L172.93,291.69 L173.71,291.07 L174.50,290.44 L175.28,289.82 L176.07,289.20 L176.10,289.17 M179.42,286.53 L179.99,286.08 L180.77,285.46 L181.56,284.83 L182.34,284.21 L183.02,283.67 M186.34,281.03 L187.05,280.47 L187.83,279.85 L188.61,279.22 L189.40,278.60 L189.94,278.17 M193.26,275.53 L193.32,275.48 L194.11,274.86 L194.89,274.23 L195.67,273.61 L196.46,272.99 L196.86,272.67 M200.18,270.03 L200.38,269.87 L201.16,269.25 L201.95,268.62 L202.73,268.00 L203.52,267.38 L203.78,267.17 M207.10,264.53 L207.44,264.26 L208.22,263.64 L209.01,263.01 L209.79,262.39 L210.58,261.77 L210.70,261.67 M214.02,259.03 L214.50,258.65 L215.28,258.02 L216.07,257.40 L216.85,256.78 L217.62,256.17 M220.94,253.53 L221.56,253.04 L222.34,252.41 L223.13,251.79 L223.91,251.17 L224.54,250.67 M227.86,248.03 L228.62,247.43 L229.40,246.80 L230.19,246.18 L230.97,245.56 L231.46,245.16 M234.78,242.53 L234.89,242.44 L235.68,241.81 L236.46,241.19 L237.24,240.57 L238.03,239.94 L238.38,239.66 M241.70,237.03 L241.95,236.83 L242.74,236.20 L243.52,235.58 L244.30,234.96 L245.09,234.33 L245.30,234.16 M248.62,231.52 L249.01,231.22 L249.79,230.59 L250.58,229.97 L251.36,229.34 L252.15,228.72 L252.22,228.66 M255.54,226.02 L256.07,225.60 L256.85,224.98 L257.64,224.36 L258.42,223.73 L259.14,223.16 M262.46,220.52 L263.13,219.99 L263.91,219.37 L264.70,218.75 L265.48,218.12 L266.06,217.66 M269.38,215.02 L269.40,215.01 L270.19,214.38 L270.97,213.76 L271.76,213.13 L272.54,212.51 L272.98,212.16 M276.30,209.52 L276.46,209.39 L277.25,208.77 L278.03,208.15 L278.82,207.52 L279.60,206.90 L279.75,206.73 L279.85,206.61 M282.65,203.42 L282.96,203.06 L283.28,202.69 L283.60,202.32 L283.92,201.96 L284.23,201.61 L284.53,201.26 L284.82,200.92 L285.10,200.60 L285.37,200.28 L285.64,199.97 L285.66,199.94 M288.37,196.68 L288.54,196.48 L288.81,196.17 L289.08,195.85 L289.36,195.54 L289.64,195.23 L289.92,194.92 L290.21,194.61 L290.50,194.30 L290.80,193.99 L291.09,193.68 L291.39,193.37 L291.48,193.29 M294.51,190.33 L294.52,190.31 L294.85,190.02 L295.19,189.72 L295.52,189.43 L295.86,189.14 L296.20,188.86 L296.55,188.58 L296.90,188.30 L297.25,188.02 L297.61,187.74 L297.98,187.46 L298.06,187.40 M301.50,184.94 L301.80,184.75 L302.20,184.51 L302.60,184.28 L302.99,184.06 L303.39,183.85 L303.80,183.65 L304.20,183.47 L304.60,183.30 L305.00,183.14 L305.41,182.99 L305.62,182.91 M309.72,181.86 L310.04,181.82 L310.47,181.77 L310.89,181.74 L311.32,181.72 L311.74,181.72 L312.16,181.73 L312.58,181.76 L313.00,181.80 L313.42,181.86 L313.85,181.93 L314.28,182.02 L314.29,182.03 M318.27,183.46 L318.59,183.62 L319.00,183.84 L319.41,184.07 L319.81,184.30 L320.20,184.54 L320.58,184.79 L320.94,185.04 L321.30,185.30 L321.65,185.57 L321.98,185.85 L322.11,185.97 M324.90,189.15 L324.95,189.22 L325.21,189.59 L325.47,189.96 L325.73,190.34 L325.99,190.71 L326.25,191.09 L326.50,191.46 L326.75,191.83 L327.00,192.20 L327.25,192.57 L327.49,192.94 L327.50,192.95 M329.63,196.61 L329.71,196.75 L329.92,197.14 L330.12,197.54 L330.32,197.93 L330.52,198.32 L330.72,198.72 L330.91,199.11 L331.11,199.51 L331.30,199.90 L331.49,200.30 L331.68,200.69 L331.69,200.72 M333.39,204.61 L333.42,204.68 L333.58,205.09 L333.75,205.50 L333.91,205.91 L334.07,206.32 L334.23,206.74 L334.38,207.16 L334.54,207.58 L334.70,208.00 L334.86,208.43 L335.01,208.86 L335.03,208.90 M336.36,212.93 L336.48,213.30 L336.62,213.75 L336.76,214.20 L336.90,214.66 L337.04,215.11 L337.18,215.56 L337.32,216.01 L337.46,216.45 L337.60,216.90 L337.73,217.32 M339.02,221.36 L339.12,221.71 L339.26,222.15 L339.39,222.59 L339.53,223.03 L339.66,223.48 L339.79,223.94 L339.92,224.39 L340.05,224.86 L340.17,225.33 L340.29,225.78 M341.31,229.90 L341.33,229.98 L341.44,230.46 L341.55,230.94 L341.66,231.44 L341.77,231.95 L341.88,232.47 L341.99,233.01 L342.11,233.57 L342.23,234.14 L342.28,234.39 M343.09,238.55 L343.14,238.80 L343.28,239.55 L343.42,240.31 L343.56,241.09 L343.71,241.89 L343.85,242.69 L343.92,243.08 M344.66,247.25 L344.75,247.72 L344.90,248.58 L345.05,249.44 L345.20,250.29 L345.35,251.15 L345.46,251.78 M346.19,255.96 L346.27,256.41 L346.42,257.32 L346.58,258.23 L346.74,259.15 L346.89,260.08 L346.96,260.49 M347.68,264.67 L347.68,264.68 L347.83,265.59 L347.99,266.50 L348.14,267.39 L348.30,268.27 L348.45,269.14 L348.46,269.21 M349.20,273.38 L349.21,273.40 L349.36,274.24 L349.51,275.09 L349.66,275.92 L349.81,276.76 L349.96,277.58 L350.02,277.91 M350.79,282.08 L350.84,282.36 L350.97,283.11 L351.11,283.86 L351.24,284.59 L351.37,285.30 L351.50,286.00 L351.61,286.60 M352.32,290.78 L352.42,291.37 L352.52,292.00 L352.62,292.62 L352.73,293.22 L352.83,293.80 L352.93,294.36 L353.02,294.90 L353.10,295.32 M354.29,299.37 L354.29,299.37 L354.39,299.53 L354.49,299.66 L354.58,299.77 L354.67,299.88 L354.76,299.97 L354.85,300.05 L354.93,300.12 L355.00,300.18 L355.08,300.24 L355.14,300.31 L355.20,300.37 L355.25,300.43 L355.30,300.50 L356.28,300.30 L357.26,300.09 L358.24,299.89 L358.31,299.87 M362.46,299.01 L363.15,298.86 L364.13,298.66 L365.11,298.45 L366.09,298.25 L366.96,298.07 M371.11,297.20 L371.97,297.02 L372.96,296.82 L373.94,296.61 L374.92,296.41 L375.62,296.26 M379.77,295.40 L379.82,295.39 L380.80,295.18 L381.78,294.98 L382.76,294.77 L383.74,294.57 L384.27,294.46 M388.42,293.59 L388.65,293.54 L389.63,293.34 L390.61,293.14 L391.59,292.93 L392.57,292.73 L392.92,292.65 M397.08,291.79 L397.48,291.70 L398.46,291.50 L399.44,291.29 L400.42,291.09 L401.40,290.89 L401.58,290.85 M405.73,289.98 L406.30,289.86 L407.29,289.66 L408.27,289.45 L409.25,289.25 L410.23,289.04 L410.23,289.04 M414.38,288.18 L415.13,288.02 L416.11,287.82 L417.09,287.61 L418.07,287.41 L418.89,287.24 M423.04,286.37 L423.96,286.18 L424.94,285.98 L425.92,285.77 L426.90,285.57 L427.54,285.43 M431.69,284.57 L431.81,284.54 L432.79,284.34 L433.77,284.14 L434.75,283.93 L435.73,283.73 L436.19,283.63 M440.34,282.76 L440.63,282.70 L441.61,282.50 L442.60,282.29 L443.58,282.09 L444.56,281.89 L444.85,281.82 M449.00,280.96 L449.46,280.86 L450.44,280.66 L451.42,280.45 L452.40,280.25 L453.39,280.04 L453.50,280.02 M457.65,279.15 L458.29,279.02 L459.27,278.82 L460.25,278.61 L461.23,278.41 L462.15,278.22 M466.31,277.35 L467.12,277.18 L468.10,276.98 L469.08,276.77 L470.06,276.57 L470.81,276.41 M474.96,275.54 L474.96,275.54 L475.94,275.34 L476.93,275.13 L477.91,274.93 L478.89,274.73 L479.46,274.61 M483.61,273.74 L483.79,273.70 L484.77,273.50 L485.75,273.29 L486.73,273.09 L487.71,272.88 L488.12,272.80 M492.27,271.94 L492.62,271.86 L493.60,271.66 L494.58,271.45 L495.56,271.25 L496.54,271.04 L496.77,271.00 M500.92,270.13 L501.45,270.02 L502.43,269.82 L503.41,269.61 L504.39,269.41 L505.37,269.20 L505.42,269.19 M509.57,268.33 L510.27,268.18 L511.26,267.98 L512.24,267.77 L513.22,267.57 L514.08,267.39 M518.23,266.52 L519.10,266.34 L520.08,266.13 L521.06,265.93 L522.04,265.72 L522.73,265.58 M526.88,264.72 L526.95,264.70 L527.93,264.50 L528.91,264.29 L529.89,264.09 L530.87,263.88 L531.39,263.78 M535.54,262.91 L535.78,262.86 L536.76,262.66 L537.74,262.45 L538.72,262.25 L539.70,262.04 L540.04,261.97 M544.19,261.11 L544.60,261.02 L545.59,260.82 L546.57,260.61 L547.55,260.41 L548.53,260.20 L548.69,260.17 M552.84,259.30 L553.43,259.18 L554.41,258.97 L555.39,258.77 L556.37,258.57 L557.35,258.36 M561.50,257.50 L562.26,257.34 L563.24,257.13 L564.22,256.93 L565.20,256.72 L566.00,256.56 M570.15,255.69 L571.09,255.50 L572.07,255.29 L573.05,255.09 L574.03,254.88 L574.65,254.75 M578.81,253.89 L578.93,253.86 L579.91,253.66 L580.90,253.45 L581.88,253.25 L582.86,253.04 L583.31,252.95 M587.46,252.08 L587.76,252.02 L588.74,251.81 L589.72,251.61 L590.70,251.41 L591.69,251.20 L591.96,251.14 M596.11,250.28 L596.59,250.18 L597.57,249.97 L598.55,249.77 L599.53,249.56 L600.51,249.36 L600.62,249.34 M604.77,248.47 L605.42,248.34 L606.40,248.13 L607.38,247.93 L608.36,247.72 L609.27,247.53 M613.42,246.67 L614.24,246.50 L615.23,246.29 L616.21,246.09 L617.19,245.88 L617.92,245.73 M622.07,244.86 L622.09,244.86 L623.07,244.66 L624.05,244.45 L625.03,244.25 L626.01,244.04 L626.58,243.92 M630.73,243.06 L630.92,243.02 L631.90,242.81 L632.88,242.61 L633.86,242.41 L634.84,242.20 L635.23,242.12 M639.38,241.25 L639.75,241.18 L640.73,240.97 L641.71,240.77 L642.69,240.56 L643.67,240.36 L643.88,240.31 M648.04,239.45 L648.57,239.34 L649.56,239.13 L650.54,238.93 L651.52,238.72 L652.50,238.52 L652.54,238.51 M656.69,237.64 L657.40,237.50 L658.38,237.29 L659.36,237.09 L660.34,236.88 L661.19,236.71 M665.34,235.84 L666.23,235.65 L667.21,235.45 L668.19,235.25 L669.17,235.04 L669.85,234.90 M674.00,234.03 L674.08,234.02 L675.06,233.81 L676.04,233.61 L677.02,233.40 L678.00,233.20" fill="none" stroke="#ff4fb6" stroke-width="4.6"/>
<path d="M49,396.8 L281,396.8  C282.82,398.15 287.65,401.43 291.90,404.90 C296.15,408.37 301.63,413.70 306.50,417.60 C311.37,421.50 316.97,425.57 321.10,428.30 C325.23,431.03 328.13,432.53 331.30,434.00 C334.47,435.47 337.55,436.77 340.10,437.10 C342.65,437.43 343.68,437.92 346.60,436.00 C349.52,434.08 353.70,429.13 357.60,425.60 C361.50,422.07 364.15,419.53 370.00,414.80 C375.85,410.07 384.37,403.33 392.70,397.20 C401.03,391.07 409.87,384.90 420.00,378.00 C430.13,371.10 442.67,362.58 453.50,355.80 C464.33,349.02 474.88,343.02 485.00,337.30 C495.12,331.58 504.20,326.47 514.20,321.50 C524.20,316.53 535.65,311.55 545.00,307.50 C554.35,303.45 561.63,300.58 570.30,297.20 C578.97,293.82 588.43,290.30 597.00,287.20 C605.57,284.10 612.87,281.33 621.70,278.60 C630.53,275.87 640.62,273.37 650.00,270.80 C659.38,268.23 673.33,264.47 678.00,263.20" fill="none" stroke="#808080" stroke-width="4.6" stroke-linejoin="round"/>
<text x="39" y="121.2" font-size="20.5" text-anchor="end" font-family="Liberation Sans, Arial, sans-serif">0.1</text>
<text x="39" y="262.6" font-size="20.5" text-anchor="end" font-family="Liberation Sans, Arial, sans-serif">0.05</text>
<text x="39" y="404.3" font-size="20.5" text-anchor="end" font-family="Liberation Sans, Arial, sans-serif">0</text>
<text x="48.60" y="509.3" font-size="20.5" text-anchor="middle" font-family="Liberation Sans, Arial, sans-serif">0</text>
<text x="181.10" y="509.3" font-size="20.5" text-anchor="middle" font-family="Liberation Sans, Arial, sans-serif">20</text>
<text x="313.60" y="509.3" font-size="20.5" text-anchor="middle" font-family="Liberation Sans, Arial, sans-serif">40</text>
<text x="446.10" y="509.3" font-size="20.5" text-anchor="middle" font-family="Liberation Sans, Arial, sans-serif">60</text>
<text x="578.60" y="509.3" font-size="20.5" text-anchor="middle" font-family="Liberation Sans, Arial, sans-serif">80</text>
<text x="282.4" y="505.6" font-size="18.6" font-style="italic" font-family="Liberation Sans, Arial, sans-serif">t</text>
<text x="286.6" y="509.3" font-size="13.7" font-family="Liberation Sans, Arial, sans-serif">1</text>
<text x="365" y="541.6" font-size="20.2" text-anchor="middle" font-family="Liberation Sans, Arial, sans-serif">Time, <tspan font-style="italic">t</tspan> (years)</text>
<rect x="291.2" y="17.3" width="393.2" height="127.9" rx="20" ry="20" fill="#fff" stroke="#333" stroke-width="1.0"/>
<text x="299.9" y="35.4" font-size="17.4" font-family="Liberation Sans, Arial, sans-serif">System 1</text>
<text x="380.6" y="35.4" font-size="17.4" font-family="Liberation Sans, Arial, sans-serif">System 2</text>
<path d="M301.6,48.4 C301.6,44.7 304.6,43.7 309.6,43.7 L330.5,43.7 C333.5,43.7 335.5,42.7 335.5,40.4 C335.5,42.7 337.5,43.7 340.5,43.7 L361.8,43.7 C366.8,43.7 369.8,44.7 369.8,48.4" fill="none" stroke="#111" stroke-width="1.5"/>
<path d="M382.2,48.4 C382.2,44.7 385.2,43.7 390.2,43.7 L411.4,43.7 C414.4,43.7 416.4,42.7 416.4,40.4 C416.4,42.7 418.4,43.7 421.4,43.7 L442.6,43.7 C447.6,43.7 450.6,44.7 450.6,48.4" fill="none" stroke="#111" stroke-width="1.5"/>
<rect x="304.4" y="57.2" width="60.8" height="6.7" fill="#2140c0"/>
<rect x="386" y="57.4" width="61" height="4.2" fill="#ff4fb6"/>
<rect x="304.4" y="82.2" width="18.6" height="5.8" fill="#2140c0"/>
<rect x="340.9" y="82.2" width="18.3" height="5.8" fill="#2140c0"/>
<rect x="386.0" y="81.3" width="18.6" height="4.8" fill="#ff4fb6"/>
<rect x="422.6" y="81.3" width="18.4" height="4.8" fill="#ff4fb6"/>
<rect x="304.4" y="107" width="5" height="5.1" fill="#2140c0"/>
<rect x="386.0" y="106.3" width="4.7" height="4.6" fill="#ff4fb6"/>
<rect x="313.5" y="107" width="5" height="5.1" fill="#2140c0"/>
<rect x="395.1" y="106.3" width="4.7" height="4.6" fill="#ff4fb6"/>
<rect x="322.6" y="107" width="5" height="5.1" fill="#2140c0"/>
<rect x="404.3" y="106.3" width="4.7" height="4.6" fill="#ff4fb6"/>
<rect x="331.7" y="107" width="5" height="5.1" fill="#2140c0"/>
<rect x="413.4" y="106.3" width="4.7" height="4.6" fill="#ff4fb6"/>
<rect x="340.8" y="107" width="5" height="5.1" fill="#2140c0"/>
<rect x="422.6" y="106.3" width="4.7" height="4.6" fill="#ff4fb6"/>
<rect x="349.9" y="107" width="5" height="5.1" fill="#2140c0"/>
<rect x="431.8" y="106.3" width="4.7" height="4.6" fill="#ff4fb6"/>
<rect x="359.0" y="107" width="5" height="5.1" fill="#2140c0"/>
<rect x="440.9" y="106.3" width="4.7" height="4.6" fill="#ff4fb6"/>
<rect x="341.2" y="128.8" width="64.8" height="6" fill="#808080"/>
<text x="455.4" y="65.2" font-size="17.4" font-family="Liberation Sans, Arial, sans-serif">Non-sustainable harvest, <tspan font-style="italic">H</tspan><tspan font-size="12.4" dy="5.2">n</tspan></text>
<text x="455.2" y="89.8" font-size="17.4" font-family="Liberation Sans, Arial, sans-serif">Sustainable harvest, <tspan font-style="italic">H</tspan><tspan font-size="12.4" dy="5.2">s</tspan></text>
<text x="455.2" y="114.1" font-size="17.4" font-family="Liberation Sans, Arial, sans-serif">Cumulative discount, <tspan font-family="Liberation Serif, serif">&#916;</tspan></text>
<text x="410.5" y="137" font-size="17.4" font-family="Liberation Sans, Arial, sans-serif">Cumulative welfare difference</text>
</svg>
</body></html>
